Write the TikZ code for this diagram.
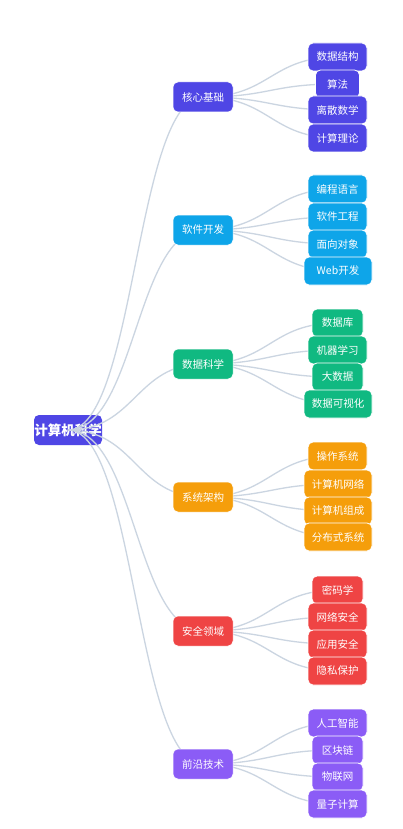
\documentclass[tikz,border=0pt]{standalone}
\usepackage{fontspec}
\setmainfont{Noto Sans CJK SC}
\usetikzlibrary{calc}
\definecolor{cA}{HTML}{4F46E5}
\definecolor{cB}{HTML}{0EA5E9}
\definecolor{cC}{HTML}{10B981}
\definecolor{cD}{HTML}{F59E0B}
\definecolor{cE}{HTML}{EF4444}
\definecolor{cF}{HTML}{8B5CF6}
\definecolor{linkc}{HTML}{CBD5E1}
\pgfdeclarelayer{back}
\pgfdeclarelayer{lines}
\pgfsetlayers{back,lines,main}
\newcommand\linkh[2]{\draw[link] let \p1=(#1.center), \p2=(#2.center) in (\p1) .. controls ({(\x1+\x2)/2},\y1) and ({(\x1+\x2)/2},\y2) .. (\p2);}
\begin{document}
\begin{tikzpicture}[x=1pt,y=-1pt,
  box/.style={rounded corners=5pt, text=white, inner sep=0pt, align=center},
  rootbox/.style={box, fill=cA, minimum width=68pt, minimum height=30pt, font=\fontsize{13.5}{15}\selectfont\bfseries},
  branch/.style={box, draw=white, line width=0.5pt, minimum width=60pt, minimum height=30pt, font=\fontsize{10.5}{12}\selectfont},
  leaf/.style={box, draw=white, line width=0.8pt, minimum height=28pt, font=\fontsize{10.5}{12}\selectfont},
  wa/.style={leaf, minimum width=44pt},
  wb/.style={leaf, minimum width=51pt},
  wc/.style={leaf, minimum width=59pt},
  wd/.style={leaf, minimum width=68pt},
  link/.style={draw=linkc, line width=1.3pt}]
\begin{pgfonlayer}{back}
\useasboundingbox[fill=white] (0,0) rectangle (403,829);
\node[rootbox] (root) at (68,430) {计算机科学};
\end{pgfonlayer}
% branches
\node[branch, fill=cA] (b1) at (203,97) {核心基础};
\node[branch, fill=cB] (b2) at (203,230) {软件开发};
\node[branch, fill=cC] (b3) at (203,364) {数据科学};
\node[branch, fill=cD] (b4) at (203,497) {系统架构};
\node[branch, fill=cE] (b5) at (203,631) {安全领域};
\node[branch, fill=cF] (b6) at (203,764) {前沿技术};
% leaves
\node[wc, fill=cA] (l11) at (337.5,57) {数据结构};
\node[wa, fill=cA] (l12) at (337.5,84) {算法};
\node[wc, fill=cA] (l13) at (337.5,110) {离散数学};
\node[wc, fill=cA] (l14) at (337.5,138) {计算理论};
\node[wc, fill=cB] (l21) at (337.5,189) {编程语言};
\node[wc, fill=cB] (l22) at (337.5,217) {软件工程};
\node[wc, fill=cB] (l23) at (337.5,244) {面向对象};
\node[wd, fill=cB] (l24) at (338,271) {Web开发};
\node[wb, fill=cC] (l31) at (337.5,323) {数据库};
\node[wc, fill=cC] (l32) at (337.5,350) {机器学习};
\node[wb, fill=cC] (l33) at (337.5,377) {大数据};
\node[wd, fill=cC] (l34) at (338,404) {数据可视化};
\node[wc, fill=cD] (l41) at (337.5,456) {操作系统};
\node[wd, fill=cD] (l42) at (338,484) {计算机网络};
\node[wd, fill=cD] (l43) at (338,511) {计算机组成};
\node[wd, fill=cD] (l44) at (338,537) {分布式系统};
\node[wb, fill=cE] (l51) at (337.5,590) {密码学};
\node[wc, fill=cE] (l52) at (337.5,617) {网络安全};
\node[wc, fill=cE] (l53) at (337.5,644) {应用安全};
\node[wc, fill=cE] (l54) at (337.5,671) {隐私保护};
\node[wc, fill=cF] (l61) at (337.5,723) {人工智能};
\node[wb, fill=cF] (l62) at (337.5,750) {区块链};
\node[wb, fill=cF] (l63) at (337.5,777) {物联网};
\node[wc, fill=cF] (l64) at (337.5,804) {量子计算};
\begin{pgfonlayer}{lines}
\foreach \b in {1,...,6}{
  \linkh{root}{b\b}
  \foreach \l in {1,...,4}{\linkh{b\b}{l\b\l}}
}
\end{pgfonlayer}
\end{tikzpicture}
\end{document}
